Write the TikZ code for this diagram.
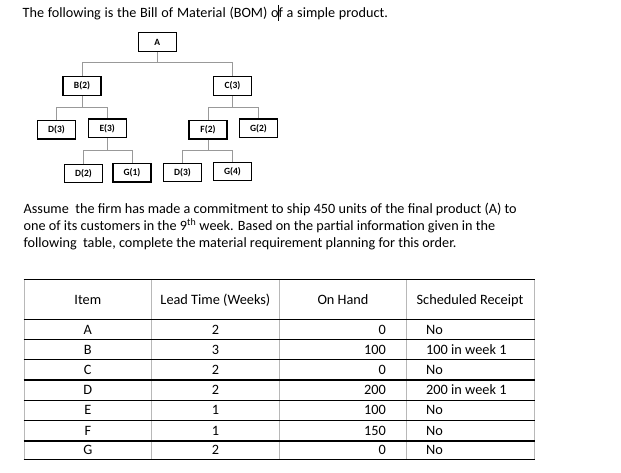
\documentclass[tikz,border=0pt]{standalone}
\usepackage{fontspec}
\setmainfont{Carlito}
\begin{document}
\begin{tikzpicture}[x=1pt,y=-1pt,
  box/.style={draw=black, line width=1.2pt, fill=white, minimum width=38pt, minimum height=18.5pt, inner sep=0pt, font=\fontsize{9.5}{10}\selectfont\bfseries},
  conn/.style={draw=black!40, line width=0.9pt},
  para/.style={anchor=base west, inner sep=0pt, font=\fontsize{14.2}{17}\selectfont},
  cell/.style={inner sep=0pt, font=\fontsize{14.3}{16}\selectfont},
  hline/.style={draw=black, line width=1.3pt},
  vline/.style={draw=black!28, line width=1pt}]
\useasboundingbox (0,0) rectangle (621,473);
% title
\node[para] (title) at (22.5,17.5) {\spaceskip=3.75pt The following is the Bill of Material (BOM) of a simple product.};
\draw[black, line width=0.9pt] (278.7,5) -- (278.7,21);
% BOM tree
\node[box] (A) at (157.2,42) {A};
\node[box] (B) at (82,86) {B(2)};
\node[box] (C) at (232.5,86) {C(3)};
\node[box] (D1) at (56.5,129.7) {D(3)};
\node[box] (E) at (107.2,128.3) {E(3)};
\node[box] (F) at (208,129.7) {F(2)};
\node[box] (G1) at (258.5,128.2) {G(2)};
\node[box] (D2) at (83.5,173.5) {D(2)};
\node[box] (G2) at (132,172.8) {G(1)};
\node[box] (D3) at (182.5,172.5) {D(3)};
\node[box] (G3) at (232.5,171.5) {G(4)};
\coordinate (busA) at (157.2,62.7);
\coordinate (busB) at (82,107.3);
\coordinate (busC) at (232.5,107.3);
\coordinate (busE) at (107.2,150.5);
\coordinate (busF) at (208,150.5);
\draw[conn] (A.south) -- (busA) -| (B.north);
\draw[conn] (busA) -| (C.north);
\draw[conn] (B.south) -- (busB) -| (D1.north);
\draw[conn] (busB) -| (E.north);
\draw[conn] (C.south) -- (busC) -| (F.north);
\draw[conn] (busC) -| (G1.north);
\draw[conn] (E.south) -- (busE) -| (D2.north);
\draw[conn] (busE) -| (G2.north);
\draw[conn] (F.south) -- (busF) -| (D3.north);
\draw[conn] (busF) -| (G3.north);
% paragraph
\node[para] (p1) at (23.5,213.5) {Assume\ \ the firm has made a commitment to ship 450 units of the final product (A) to};
\node[para] (p2) at (23.5,230.5) {one of its customers in the 9\textsuperscript{th} week. Based on the partial information given in the};
\node[para] (p3) at (23.5,247.5) {following\ \ table, complete the material requirement planning for this order.};
% table grid
\foreach \x in {24,151.6,279.2,406.8,534.3} \draw[vline] (\x,279.5) -- (\x,459.5);
\foreach \y in {279.5,319.5,339.5,359.7,380,400.3,420.6,440.9,459.5} \draw[hline] (23.5,\y) -- (534.8,\y);
% header
\node[cell, anchor=base] (h1) at (87.8,304) {Item};
\node[cell, anchor=base] (h2) at (215.4,304) {Lead Time (Weeks)};
\node[cell, anchor=base] (h3) at (343,304) {On Hand};
\node[cell, anchor=base] (h4) at (470,304) {Scheduled Receipt};
% rows
\foreach \ia/\ib/\ic/\id/\yy [count=\k] in {A/2/0/No/329.5, B/3/100/100 in week 1/349.6, C/2/0/No/369.8, D/2/200/200 in week 1/390.1, E/1/100/No/410.4, F/1/150/No/430.7, G/2/0/No/450.2} {
  \node[cell, anchor=base] (ri\k) at (87.8,\yy+4.5) {\ia};
  \node[cell, anchor=base] (rl\k) at (215.4,\yy+4.5) {\ib};
  \node[cell, anchor=base east] (ro\k) at (386,\yy+4.5) {\ic};
  \node[cell, anchor=base west] (rs\k) at (426,\yy+4.5) {\id};
}
\end{tikzpicture}
\end{document}
